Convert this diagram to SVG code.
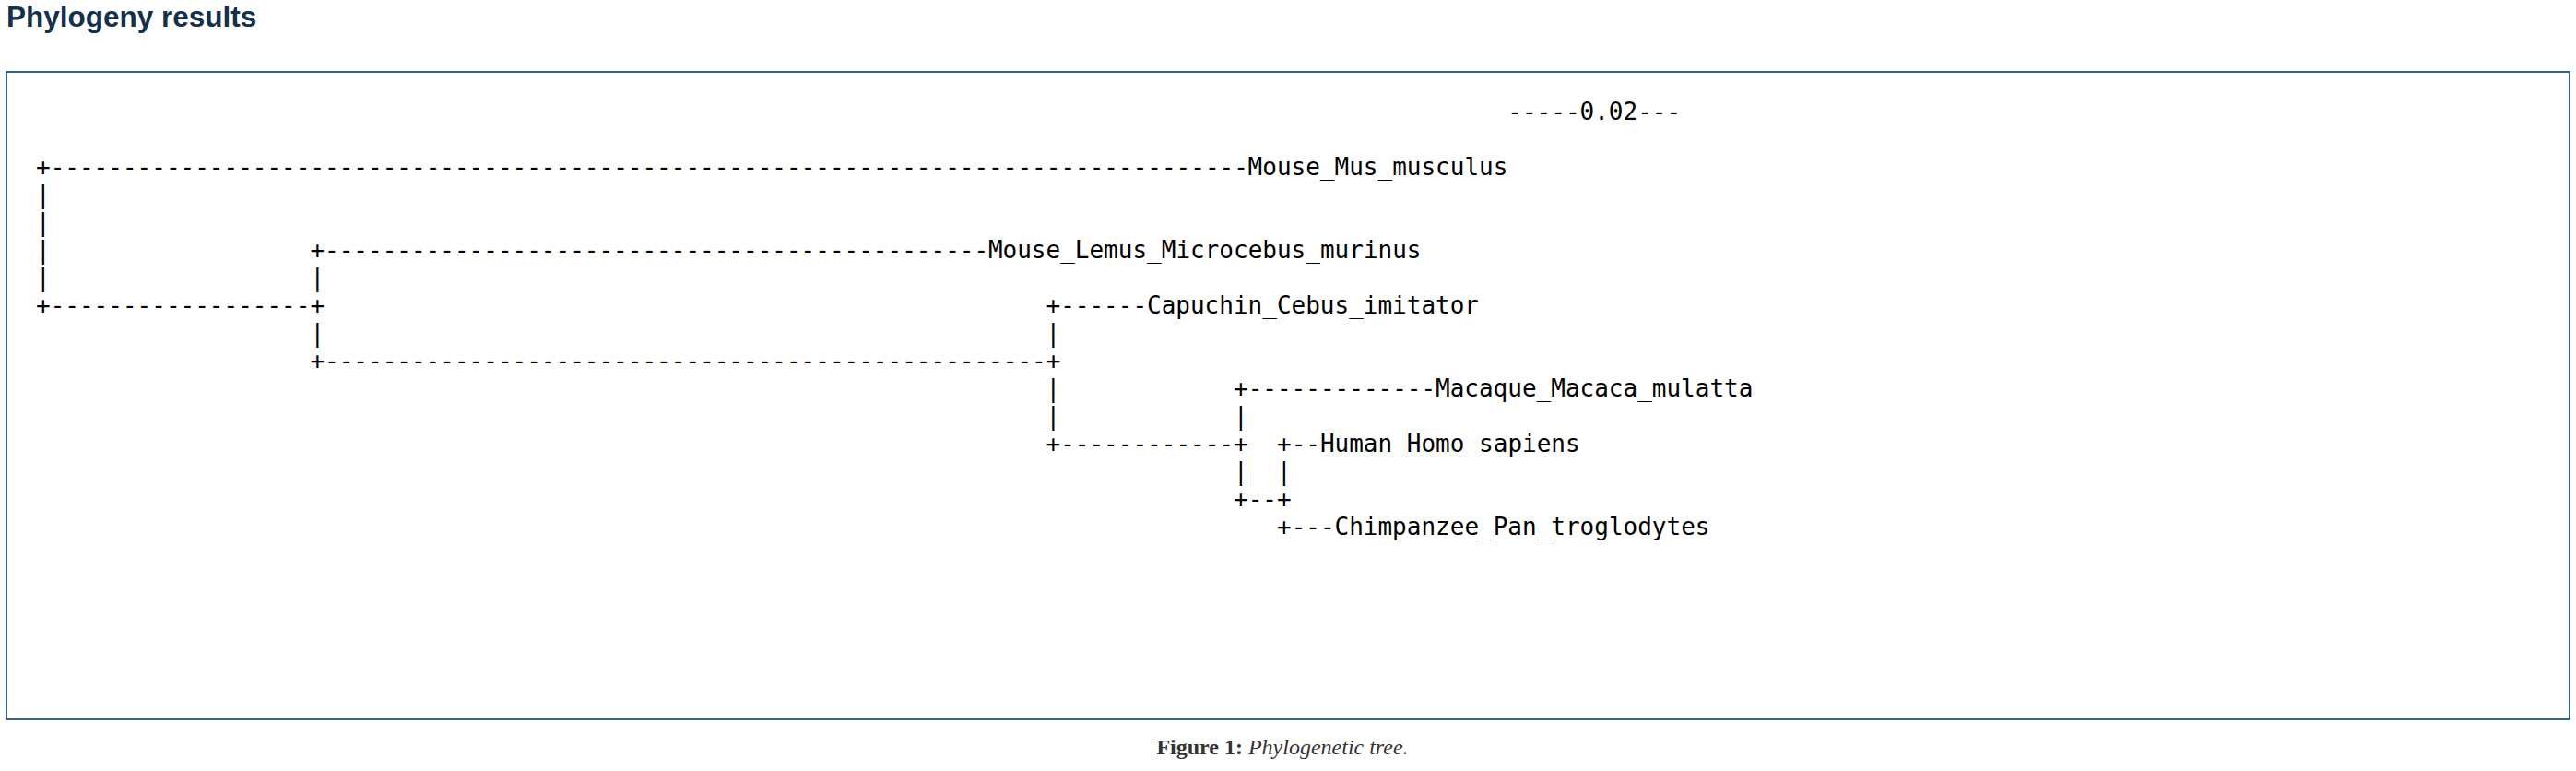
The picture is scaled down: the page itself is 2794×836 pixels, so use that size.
<svg xmlns="http://www.w3.org/2000/svg" width="2794" height="836" viewBox="0 0 2794 836">
<style>
.t{font-family:"DejaVu Sans Mono",monospace;font-size:26px;fill:#000;white-space:pre}
</style>
<rect width="2794" height="836" fill="#fff"/>
<text x="7" y="29" font-family="Liberation Sans, Arial, sans-serif" font-weight="bold" font-size="31.5" fill="#15304c">Phylogeny results</text>
<rect x="7" y="78" width="2780" height="702" fill="none" stroke="#2f6394" stroke-width="2"/>
<g id="scale"><text class="t" x="1635.3" y="130">-----0.02---</text></g>
<g id="connectors">
<text class="t" x="39" y="190">+-----------------------------------------------------------------------------------</text>
<text class="t" x="39" y="220">|</text>
<text class="t" x="39" y="250">|</text>
<text class="t" x="39" y="280">|</text>
<text class="t" x="336.4" y="280">+----------------------------------------------</text>
<text class="t" x="39" y="310">|</text>
<text class="t" x="336.4" y="310">|</text>
<text class="t" x="39" y="340">+------------------+</text>
<text class="t" x="1134.5" y="340">+------</text>
<text class="t" x="336.4" y="370">|</text>
<text class="t" x="1134.5" y="370">|</text>
<text class="t" x="336.4" y="400">+--------------------------------------------------+</text>
<text class="t" x="1134.5" y="430">|</text>
<text class="t" x="1338" y="430">+-------------</text>
<text class="t" x="1134.5" y="460">|</text>
<text class="t" x="1338" y="460">|</text>
<text class="t" x="1134.5" y="490">+------------+</text>
<text class="t" x="1385" y="490">+--</text>
<text class="t" x="1338" y="520">|</text>
<text class="t" x="1385" y="520">|</text>
<text class="t" x="1338" y="550">+--+</text>
<text class="t" x="1385" y="580">+---</text>
</g>
<g id="mouse"><text class="t" x="1353.6" y="190">Mouse_Mus_musculus</text></g>
<g id="lemur"><text class="t" x="1071.9" y="280">Mouse_Lemus_Microcebus_murinus</text></g>
<g id="capuchin"><text class="t" x="1244" y="340">Capuchin_Cebus_imitator</text></g>
<g id="macaque"><text class="t" x="1557" y="430">Macaque_Macaca_mulatta</text></g>
<g id="human"><text class="t" x="1431.9" y="490">Human_Homo_sapiens</text></g>
<g id="chimp"><text class="t" x="1447.5" y="580">Chimpanzee_Pan_troglodytes</text></g>
<text x="1391" y="818" text-anchor="middle" font-family="Liberation Serif, Times New Roman, serif" font-size="24" fill="#333"><tspan font-weight="bold">Figure 1:</tspan> <tspan font-style="italic">Phylogenetic tree.</tspan></text>
</svg>
